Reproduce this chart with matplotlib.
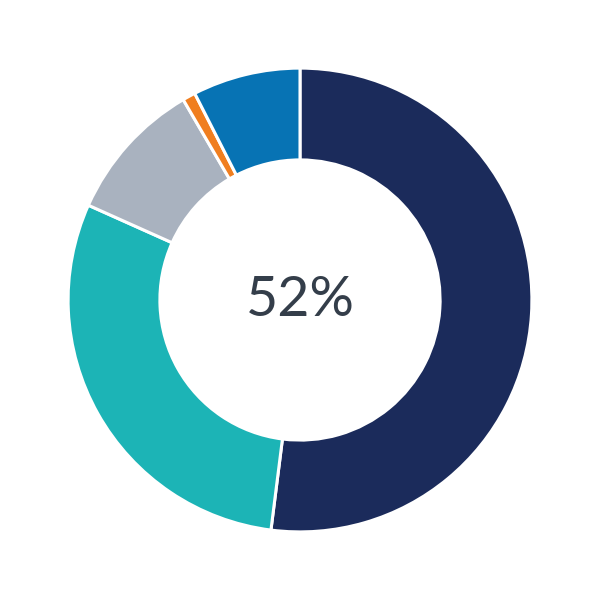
import matplotlib.pyplot as plt

# Donut chart: share by segment, clockwise from 12 o'clock
labels = ['Navy', 'Teal', 'Gray', 'Orange', 'Blue']
values = [52, 29.7, 9.9, 0.9, 7.5]
colors = ['#1b2b5b', '#1cb4b6', '#a9b2bf', '#f07e1f', '#0773b4']
center_text = '52%'

fig = plt.figure(figsize=(6, 6), dpi=100)
ax = fig.add_axes([0, 0, 1, 1])

ax.pie(values, colors=colors, startangle=90, counterclock=False,
       radius=0.773,
       wedgeprops=dict(width=0.773 - 0.467, edgecolor='white', linewidth=2.2))

ax.text(0, 0, center_text, ha='center', va='center', fontsize=40,
        family=['Lato', 'DejaVu Sans'], color='#343e4a')

ax.set_xlim(-1, 1)
ax.set_ylim(-1, 1)
ax.set_aspect('equal')
ax.axis('off')

plt.savefig('out.png', dpi=100, facecolor='white')
